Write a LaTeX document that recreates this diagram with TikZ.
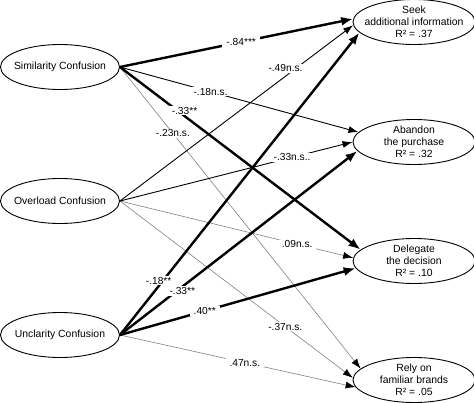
\documentclass[tikz,border=0pt]{standalone}
\usepackage{fontspec}
\setmainfont{Liberation Sans}
\usetikzlibrary{arrows.meta,shapes.geometric}
\begin{document}
\begin{tikzpicture}[x=1pt,y=-1pt,
  lell/.style={draw,ellipse,line width=0.9pt,minimum width=119pt,minimum height=45pt,inner sep=0pt},
  rell/.style={draw,ellipse,line width=0.9pt,minimum width=122pt,minimum height=45pt,inner sep=0pt},
  txt/.style={align=center,font=\fontsize{10.4}{12}\selectfont,inner sep=0pt},
  lbl/.style={fill=white,font=\fontsize{10.2}{12}\selectfont,inner xsep=4pt,inner ysep=1pt},
  thickarr/.style={line width=2.4pt,-{Latex[length=12pt,width=9pt]}},
  thinarr/.style={line width=0.9pt,-{Latex[length=10pt,width=7pt]}},
  grayarr/.style={line width=0.6pt,draw=black!50,-{Latex[length=10pt,width=7pt,color=black]}},
]
\useasboundingbox (0,0) rectangle (474,402);

% left ellipses
\node[lell] (sim) at (60,67) {};
\node[txt] (simt) at (sim.center) {Similarity Confusion};
\node[lell] (over) at (60,201) {};
\node[txt] (overt) at (over.center) {Overload Confusion};
\node[lell] (uncl) at (60,335) {};
\node[txt] (unclt) at (uncl.center) {Unclarity Confusion};

% right ellipses
\node[rell] (seek) at (414,22) {};
\node[txt] (seekt) at (seek.center) {Seek\\additional information\\R² = .37};
\node[rell] (aban) at (414,142) {};
\node[txt] (abant) at (aban.center) {Abandon\\the purchase\\R² = .32};
\node[rell] (dele) at (414,261) {};
\node[txt] (delet) at (dele.center) {Delegate\\the decision\\R² = .10};
\node[rell] (rely) at (414,380) {};
\node[txt] (relyt) at (rely.center) {Rely on\\familiar brands\\R² = .05};

% gray edges first
\draw[grayarr] (sim.east) -- node[lbl,pos=0.22] (l4) {-.23n.s.} (rely.168);
\draw[grayarr] (over.east) -- node[lbl,pos=0.76] (l7) {.09n.s.} (dele.177);
\draw[grayarr] (over.east) -- node[lbl,pos=0.71] (l8) {-.37n.s.} (rely.178);
\draw[grayarr] (uncl.east) -- node[lbl,pos=0.53] (l12) {.47n.s.} (rely.187);

% thin black edges
\draw[thinarr] (sim.east) -- node[lbl,pos=0.38] (l2) {-.18n.s.} (aban.170);
\draw[thinarr] (over.east) -- node[lbl,pos=0.71,yshift=8pt] (l5) {-.49n.s.} (seek.183);
\draw[thinarr] (over.east) -- node[lbl,pos=0.74] (l6) {-.33n.s..} (aban.180);

% thick edges
\draw[thickarr] (sim.east) -- node[lbl,pos=0.52] (l1) {-.84***} (seek.177);
\draw[thickarr] (sim.east) -- node[lbl,pos=0.26,yshift=4pt,xshift=2pt] (l3) {-.33**} (dele.168);
\draw[thickarr] (uncl.east) -- node[lbl,pos=0.17,yshift=3pt,xshift=-2pt] (l9) {-.18**} (seek.191);
\draw[thickarr] (uncl.east) -- node[lbl,pos=0.25,xshift=3pt,yshift=-2pt] (l10) {-.33**} (aban.189);
\draw[thickarr] (uncl.east) -- node[lbl,pos=0.36] (l11) {.40**} (dele.187);
\end{tikzpicture}
\end{document}
